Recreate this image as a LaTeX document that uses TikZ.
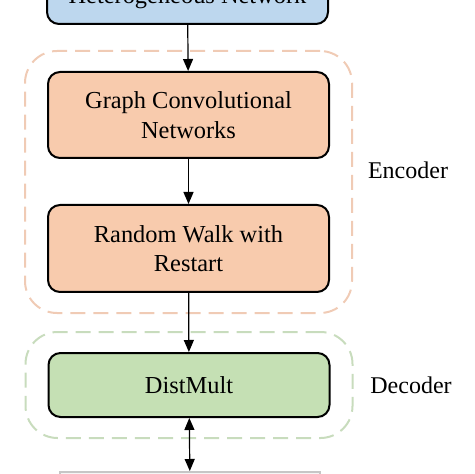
\documentclass[tikz,border=0pt]{standalone}
\usepackage{fontspec}
\setmainfont{Liberation Serif}
\usepackage{tikz}
\usetikzlibrary{arrows.meta,positioning,fit,backgrounds}

\definecolor{netblue}{HTML}{BDD7EE}
\definecolor{encorange}{HTML}{F8CBAD}
\definecolor{decgreen}{HTML}{C5E0B4}
\definecolor{encdash}{HTML}{F0CBB5}
\definecolor{decdash}{HTML}{C8DCBD}

\tikzset{
    block/.style={draw=black, line width=1pt, rounded corners=6pt, align=center,
        minimum width=140.5pt, font=\fontsize{12.2}{14.8}\selectfont},
    group/.style={line width=1pt, dash pattern=on 7.5pt off 4pt, rounded corners=16pt,
        inner xsep=11pt, inner ysep=10pt},
    flow/.style={line width=0.6pt, -{Triangle[width=5pt,length=6pt]}},
    tag/.style={font=\fontsize{12}{14.5}\selectfont}
}

\begin{document}
\begin{tikzpicture}[x=0.5pt, y=-0.5pt]
    \clip (0,0) rectangle (474,474);

    % blocks
    \node[block, fill=netblue, minimum height=26.5pt] (net) at (187.5,-2.5) {Heterogeneous Network};
    \node[block, fill=encorange, minimum height=43pt] (gcn) at (188.5,115) {Graph Convolutional\\Networks};
    \node[block, fill=encorange, minimum height=43.5pt] (rwr) at (188.5,248.5) {Random Walk with\\Restart};
    \node[block, fill=decgreen, minimum height=32pt] (dist) at (189,385) {DistMult};
    \node[draw=gray!45, fill=gray!8, line width=1pt, minimum width=130pt, minimum height=20pt] (out) at (190,492) {};

    % groups
    \begin{scope}[on background layer]
        \node[group, draw=encdash, fit=(gcn)(rwr)] (enc) {};
        \node[group, draw=decdash, fit=(dist)] (dec) {};
    \end{scope}
    \node[tag] at (408,170) {Encoder};
    \node[tag] at (411,385) {Decoder};

    % arrows
    \draw[flow] (net) -- (gcn);
    \draw[flow] (gcn) -- (rwr);
    \draw[flow] (rwr) -- (dist);
    \draw[flow, {Triangle[width=5pt,length=6pt]}-{Triangle[width=5pt,length=6pt]}] (dist) -- (out);
\end{tikzpicture}
\end{document}
